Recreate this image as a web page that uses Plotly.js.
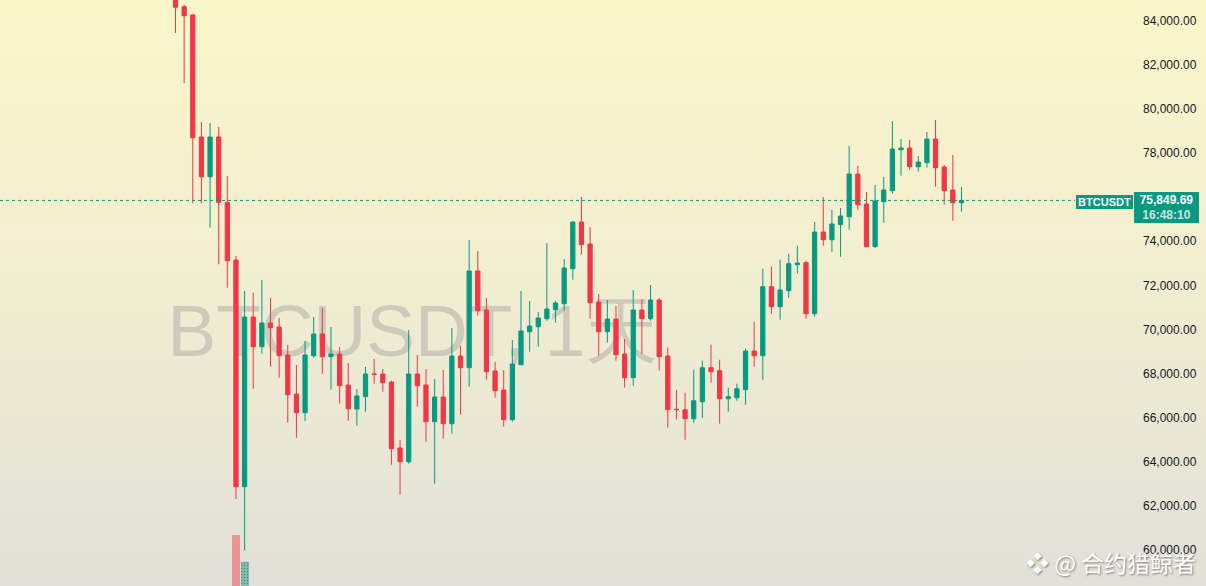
<!DOCTYPE html>
<html>
<head>
<meta charset="utf-8">
<script src="https://cdn.plot.ly/plotly-3.0.1.min.js"></script>
<style>
  html, body { margin: 0; padding: 0; }
  #chart {
    width: 1206px; height: 586px;
    background: linear-gradient(to bottom, #faf6cb 0%, #f3efcf 40%, #ebe8d4 70%, #e1e0d9 100%);
  }
</style>
</head>
<body>
<div id="chart"></div>
<script>
// ---- data (BTCUSDT, daily) ----
const dates = [
  '2026-01-29','2026-01-30','2026-01-31',
  '2026-02-01','2026-02-02','2026-02-03','2026-02-04','2026-02-05','2026-02-06','2026-02-07',
  '2026-02-08','2026-02-09','2026-02-10','2026-02-11','2026-02-12','2026-02-13','2026-02-14',
  '2026-02-15','2026-02-16','2026-02-17','2026-02-18','2026-02-19','2026-02-20','2026-02-21',
  '2026-02-22','2026-02-23','2026-02-24','2026-02-25','2026-02-26','2026-02-27','2026-02-28',
  '2026-03-01','2026-03-02','2026-03-03','2026-03-04','2026-03-05','2026-03-06','2026-03-07',
  '2026-03-08','2026-03-09','2026-03-10','2026-03-11','2026-03-12','2026-03-13','2026-03-14',
  '2026-03-15','2026-03-16','2026-03-17','2026-03-18','2026-03-19','2026-03-20','2026-03-21',
  '2026-03-22','2026-03-23','2026-03-24','2026-03-25','2026-03-26','2026-03-27','2026-03-28',
  '2026-03-29','2026-03-30','2026-03-31',
  '2026-04-01','2026-04-02','2026-04-03','2026-04-04','2026-04-05','2026-04-06','2026-04-07',
  '2026-04-08','2026-04-09','2026-04-10','2026-04-11','2026-04-12','2026-04-13','2026-04-14',
  '2026-04-15','2026-04-16','2026-04-17','2026-04-18','2026-04-19','2026-04-20','2026-04-21',
  '2026-04-22','2026-04-23','2026-04-24','2026-04-25','2026-04-26','2026-04-27','2026-04-28',
  '2026-04-29','2026-04-30'
];
const openP = [
  85075,84635,84259,78726,76925,78726,75764,73148,62867,70563,
  69216,70291,70109,68840,67071,66223,68808,69792,68763,68885,
  67479,66390,66949,67978,67978,67615,64622,64000,67978,67479,
  65815,66935,65724,68794,68264,72649,70880,68114,67252,65906,
  68399,69896,70123,70485,70894,71166,72753,74871,73873,71243,
  69896,70472,68885,67810,70880,70485,71334,68794,66377,66359,
  65951,66722,68264,68128,66858,66903,67266,69021,68808,71937,
  71030,71755,72935,73025,70712,74417,74068,74749,75111,77048,
  75687,73751,75792,76290,78150,78227,77379,77560,78635,77365,
  76322,75746
];
const highP = [
  85300,84712,84300,79406,79361,79179,76957,73329,71742,71665,
  72241,71425,70517,69293,68386,69475,70563,70971,70109,69202,
  68477,67297,68295,68658,68205,67674,64985,69973,68840,68205,
  67751,68159,70064,69248,74055,73556,71425,68522,68159,69520,
  71742,71288,70790,73919,71288,73193,74916,76005,74644,71606,
  71334,71062,69565,71787,71379,72014,71425,69171,67252,67130,
  68173,68581,69307,68627,67357,67538,69125,70350,72753,72844,
  73161,73433,73796,73116,74871,76005,75429,75506,78331,77411,
  76232,76549,76912,79451,78635,78590,77864,78952,79497,77456,
  77910,76458
];
const lowP = [
  83442,81161,75719,75719,74613,72953,71892,62309,59964,67311,
  68899,68309,67810,65769,65089,65846,68717,67991,67266,66631,
  65860,65633,66268,67538,67175,63864,62504,63910,66495,64908,
  63003,65044,65271,66132,67402,70622,67719,66903,65588,65815,
  68399,68989,69216,70395,70304,70849,72254,73388,70485,68808,
  69397,68581,67357,67447,68899,70395,68128,65543,65906,64998,
  65769,65996,67583,65724,66268,66767,66586,68309,67719,70712,
  70440,71438,72526,70485,70576,73796,73524,73297,74522,75429,
  73751,73705,74839,76155,76971,77243,77152,77334,76472,75655,
  74930,75338
];
const closeP = [
  84608,84227,78694,76925,78726,75764,73116,62867,70563,69216,
  70291,70078,68808,67039,66223,68840,69792,68763,68885,67447,
  66404,66980,67978,67965,67583,64590,64000,67978,67447,65815,
  66935,65724,68794,68264,72649,70849,68082,67221,65906,68431,
  69928,70154,70517,70926,71198,72785,74871,73842,71211,69896,
  70472,68853,67810,70880,70485,71334,68763,66359,66363,65951,
  66767,68264,68082,66858,66949,67311,69021,68808,71937,71030,
  71787,72980,73012,70712,74417,74068,74780,75143,77048,75655,
  73751,75823,76322,78182,78227,77379,77592,78635,77334,76290,
  75746,75849.69
];
// volume bars visible at the bottom edge (BTC)
const volDates = ['2026-02-05', '2026-02-06'];
const volValues = [150000, 110000];
const volColors = ['rgba(242,54,69,0.45)', 'rgba(8,153,129,0.45)'];
const yTicks = [60000,62000,64000,66000,68000,70000,72000,74000,76000,78000,80000,82000,84000];
const symbol = 'BTCUSDT';
const lastPrice = 75849.69;
const countdown = '16:48:10';
const watermark = 'BTCUSDT, 1天';
const author = '❖ @ 合约猎鲸者';

// ---- layout helpers ----
const UP = '#089981', DOWN = '#F23645';
const plotW = 1075;           // plot area width in px
const pxPerDay = 8.637;
const firstPx = 175.5;
const DAY = 86400000;
const t0 = new Date(dates[0] + 'T00:00:00Z').getTime();
const xr0 = new Date(t0 - firstPx / pxPerDay * DAY).toISOString();
const xr1 = new Date(t0 + (plotW - firstPx) / pxPerDay * DAY).toISOString();

const candles = {
  type: 'candlestick',
  x: dates, open: openP, high: highP, low: lowP, close: closeP,
  increasing: { line: { color: UP, width: 1 }, fillcolor: UP },
  decreasing: { line: { color: DOWN, width: 1 }, fillcolor: DOWN },
  whiskerwidth: 0,
  hoverinfo: 'skip',
  xaxis: 'x', yaxis: 'y'
};
const volume = {
  type: 'bar',
  x: volDates, y: volValues,
  width: 0.93 * DAY,
  marker: {
    color: volColors, line: { width: 0 },
    pattern: { shape: ['', '.'], fillmode: 'overlay', fgcolor: 'rgba(255,255,255,0.7)', size: 3, solidity: 0.25 }
  },
  hoverinfo: 'skip',
  xaxis: 'x', yaxis: 'y2'
};

const layout = {
  width: 1206, height: 586,
  margin: { l: 0, r: 131, t: 0, b: 0, pad: 0 },
  paper_bgcolor: 'rgba(0,0,0,0)',
  plot_bgcolor: 'rgba(0,0,0,0)',
  showlegend: false,
  hovermode: false,
  boxgap: 0.3,
  bargap: 0,
  xaxis: {
    type: 'date', range: [xr0, xr1], visible: false,
    rangeslider: { visible: false }, fixedrange: true
  },
  yaxis: {
    side: 'right', range: [58364, 84939], fixedrange: true,
    showgrid: false, zeroline: false, showline: false, ticks: '',
    tickvals: yTicks, tickformat: ',.2f',
    ticklabelstandoff: 67,
    tickfont: { family: 'Liberation Sans, Arial, sans-serif', size: 12, color: '#131722' }
  },
  yaxis2: {
    overlaying: 'y', range: [74448, 942548], visible: false, fixedrange: true
  },
  shapes: [
    {
      type: 'rect', xref: 'paper', yref: 'paper', layer: 'below',
      x0: 173 / plotW, x1: 653 / plotW, y0: 1 - 354 / 586, y1: 1 - 292 / 586,
      line: { width: 0 }, fillcolor: 'rgba(0,0,0,0)',
      label: {
        text: watermark, textposition: 'middle center',
        font: { family: 'Liberation Sans, Arial, sans-serif',
                size: 73, color: 'rgba(120,123,134,0.29)' }
      }
    },
    {
      type: 'line', xref: 'paper', yref: 'y', x0: 0, x1: 1, y0: lastPrice, y1: lastPrice,
      line: { color: UP, width: 1, dash: 'dot' }
    }
  ],
  annotations: [
    {
      xref: 'paper', yref: 'y', x: 1076 / plotW, y: lastPrice, xanchor: 'left', yanchor: 'middle',
      yshift: -2, showarrow: false, text: '<b>' + symbol + '</b>',
      font: { family: 'Liberation Sans, Arial, sans-serif', size: 11, color: '#ffffff' },
      bgcolor: UP, borderpad: 1, borderwidth: 0, width: 55, height: 12
    },
    {
      xref: 'paper', yref: 'y', x: 1134 / plotW, y: lastPrice, xanchor: 'left', yanchor: 'top',
      yshift: 8.5, showarrow: false, align: 'center',
      text: '<b>' + lastPrice.toLocaleString('en-US', { minimumFractionDigits: 2 }) + '</b><br>' +
            '<span style="color:rgba(255,255,255,0.78)"><b>' + countdown + '</b></span>',
      font: { family: 'Liberation Sans, Arial, sans-serif', size: 12, color: '#ffffff' },
      bgcolor: UP, borderpad: 1, borderwidth: 0, width: 63, height: 29
    },
    {
      xref: 'paper', yref: 'paper', x: 1198 / plotW, y: 1 - 562 / 586, xanchor: 'right', yanchor: 'middle',
      showarrow: false, text: author,
      font: { family: 'Noto Sans CJK SC, sans-serif', size: 23, color: '#ffffff',
              shadow: '1px 1px 2px rgba(0,0,0,0.45)' }
    }
  ]
};

Plotly.newPlot('chart', [volume, candles], layout, { staticPlot: true, displayModeBar: false });
</script>
</body>
</html>
